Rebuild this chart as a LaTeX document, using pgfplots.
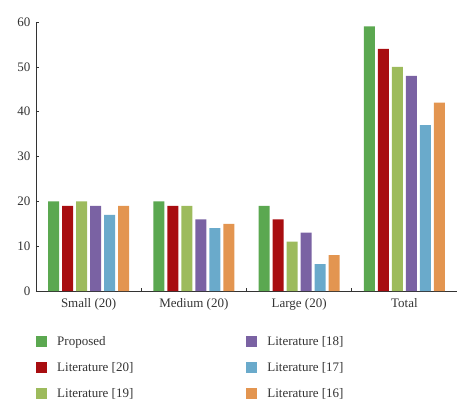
\documentclass[border=0pt]{standalone}
\usepackage{fontspec}
\setmainfont{Liberation Serif}
\usepackage{pgfplots}
\pgfplotsset{compat=1.18}
\definecolor{cProp}{HTML}{5BA850}
\definecolor{cLa}{HTML}{A80D10}
\definecolor{cLb}{HTML}{9DBB5C}
\definecolor{cLc}{HTML}{7A62A3}
\definecolor{cLd}{HTML}{6AAACB}
\definecolor{cLe}{HTML}{E39550}
\definecolor{axgray}{HTML}{333333}
\begin{document}
\begin{tikzpicture}
\path[use as bounding box] (-36pt,-124pt) rectangle (438pt,291pt);
\begin{axis}[
  name=ax, at={(0pt,0pt)}, anchor=south west,
  scale only axis, width=421pt, height=269pt,
  ybar=3pt, bar width=11pt,
  xmin=-0.5, xmax=3.5, ymin=0, ymax=60,
  axis lines=left, axis line style={-, draw=axgray, line width=0.7pt},
  xtick={0.5,1.5,2.5}, xticklabels={},
  extra x ticks={0,1,2,3},
  extra x tick labels={Small (20), Medium (20), Large (20), Total},
  extra x tick style={major tick length=0pt},
  xticklabel style={yshift=-4pt},
  yticklabel style={xshift=-2pt},
  ytick={0,10,...,60},
  tick align=inside, major tick length=3pt,
  tick style={draw=axgray, line width=0.6pt},
  tick label style={font=\fontsize{13}{15}\selectfont, text=axgray},
  /pgf/number format/assume math mode=true,
  legend columns=3,
  transpose legend,
  legend cell align=left,
  legend style={draw=none, fill=none, at={(0,-0.16)}, anchor=north west, inner sep=0pt,
    font=\fontsize{13}{15}\selectfont, text=axgray, row sep=11.5pt,
    /tikz/every odd column/.append style={column sep=8pt},
    /tikz/every even column/.append style={column sep=111pt}},
  legend image code/.code={\fill[#1] (0pt,-5.5pt) rectangle (11pt,5.5pt);},
]
\addplot[fill=cProp, draw=none] coordinates {(0,20) (1,20) (2,19) (3,59)};
\addplot[fill=cLa, draw=none] coordinates {(0,19) (1,19) (2,16) (3,54)};
\addplot[fill=cLb, draw=none] coordinates {(0,20) (1,19) (2,11) (3,50)};
\addplot[fill=cLc, draw=none] coordinates {(0,19) (1,16) (2,13) (3,48)};
\addplot[fill=cLd, draw=none] coordinates {(0,17) (1,14) (2,6) (3,37)};
\addplot[fill=cLe, draw=none] coordinates {(0,19) (1,15) (2,8) (3,42)};
\legend{Proposed, Literature [20], Literature [19], Literature [18], Literature [17], Literature [16]}
\end{axis}
\end{tikzpicture}
\end{document}
